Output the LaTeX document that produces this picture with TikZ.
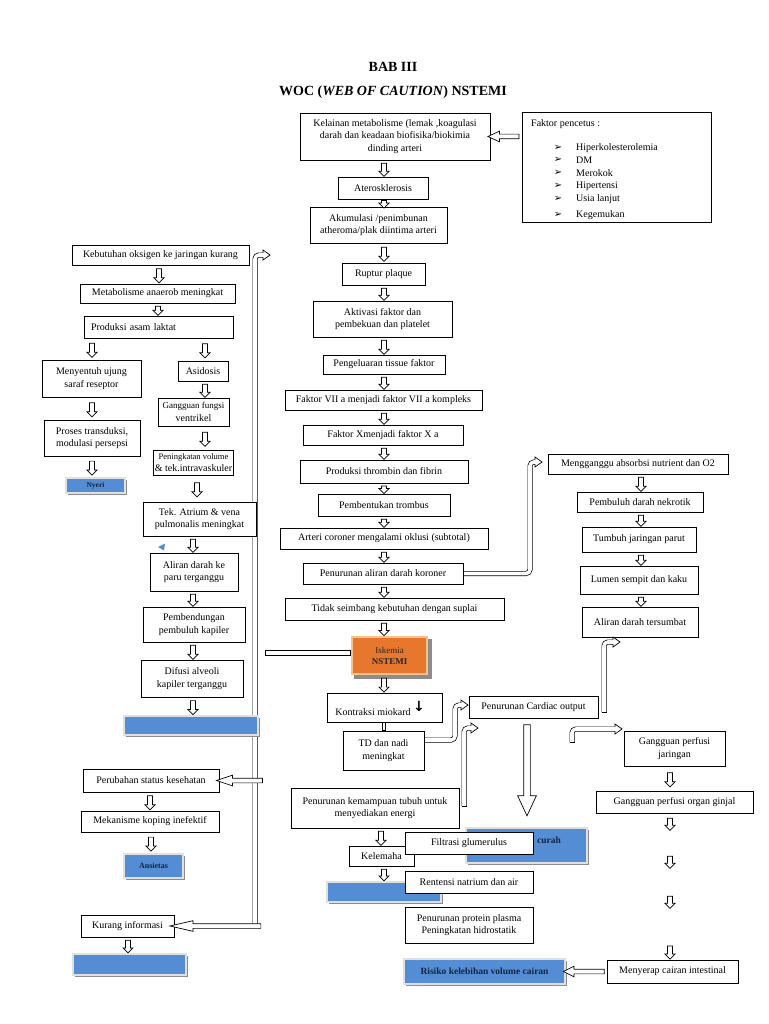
\documentclass[tikz,border=0pt]{standalone}
\usepackage{fontspec}
\setmainfont{Liberation Serif}
\newfontfamily\dejavu{DejaVu Sans}
\usetikzlibrary{shapes.arrows,calc}
\pgfdeclarelayer{bg}
\pgfsetlayers{bg,main}
\definecolor{bluefill}{RGB}{84,141,212}
\definecolor{orangefill}{RGB}{232,119,46}
\definecolor{peach}{RGB}{250,192,144}
\definecolor{navy}{RGB}{16,37,63}
\tikzset{
 box/.style={draw, fill=white, line width=0.9, align=center, inner sep=1, font=\fontsize{10}{12.5}\selectfont},
 bluebox/.style={fill=bluefill, draw=black!12, line width=1.6, align=center, inner sep=1, text=navy, font=\bfseries\fontsize{9.5}{11}\selectfont},
 dn/.style={single arrow, draw, fill=white, rotate=-90, inner sep=2.2, minimum width=9.5, single arrow head extend=2.5, single arrow tip angle=90, line width=0.7},
 bigdn/.style={single arrow, draw, fill=white, rotate=-90, inner sep=3, minimum width=18, single arrow head extend=6, single arrow tip angle=50, line width=0.7},
 lt/.style={single arrow, draw, fill=white, rotate=180, inner sep=2, minimum width=10, single arrow head extend=3, line width=0.7},
 dbl/.style={double, double distance=3.6, line width=0.7, rounded corners=4},
 bar/.style={draw, fill=white, line width=0.7},
 hhead/.pic={\filldraw[fill=white, line width=0.7] (-7,-2.15) -- (-7,-5) -- (0,0) -- (-7,5) -- (-7,2.15);},
 lbl/.style={font=\fontsize{10}{12}\selectfont, inner sep=0},
}
\newcommand\bx[6]{\node[box, minimum width={#4-#2}, minimum height={#5-#3}] (#1) at ({(#2+#4)/2},{(#3+#5)/2}) {#6};}
\newcommand\bb[6]{\fill[black!45] ({#2+2},{#3+2}) rectangle ({#4+2},{#5+2});
 \node[bluebox, minimum width={#4-#2}, minimum height={#5-#3}] (#1) at ({(#2+#4)/2},{(#3+#5)/2}) {#6};}
\newcommand\hd[3]{\path let \p1=(#1.south), \p2=(#2.north), \n1={min(max(\y1-(\y2)-3,7),14)} in
 ($(#3,0 |- #1.south)!0.5!(#3,0 |- #2.north)$) node[dn, minimum height=\n1] {};}
\newcommand\capv[1]{\draw[line width=0.7] ($(#1)+(-2.5,0)$) -- ($(#1)+(2.5,0)$);}
\begin{document}
\begin{tikzpicture}[x=1pt,y=-1pt]
\useasboundingbox (0,0) rectangle (768,1024);
\begin{pgfonlayer}{bg}
\fill[white] (0,0) rectangle (768,1024);
\end{pgfonlayer}

% titles
\node[font=\bfseries\fontsize{14}{16}\selectfont] (t1) at (393,67) {BAB III};
\node[font=\bfseries\fontsize{14}{16}\selectfont] (t2) at (393,92) {WOC (\textit{WEB OF CAUTION}) NSTEMI};

% ---------------- centre column
\bx{kel}{300}{113}{490}{160}{Kelainan metabolisme (lemak ,koagulasi\\darah dan keadaan biofisika/biokimia\\dinding arteri}
\bx{ate}{338}{177}{428}{199}{Aterosklerosis}
\bx{aku}{310}{207}{447}{243}{Akumulasi /penimbunan\\atheroma/plak diintima arteri}
\bx{rup}{342}{263}{425}{285}{Ruptur plaque}
\bx{akt}{313}{301}{452}{337}{Aktivasi faktor dan\\pembekuan dan platelet}
\bx{pgl}{323}{355}{445}{374}{Pengeluaran tissue faktor}
\bx{f7}{285}{390}{482}{410}{Faktor VII a menjadi faktor VII a kompleks}
\bx{fx}{303}{425}{463}{445}{Faktor Xmenjadi faktor X a}
\bx{pth}{300}{460}{468}{483}{Produksi thrombin dan fibrin}
\bx{ptr}{318}{494}{450}{516}{Pembentukan trombus}
\bx{art}{280}{528}{488}{549}{Arteri coroner mengalami oklusi (subtotal)}
\bx{pen}{303}{563}{463}{584}{Penurunan aliran darah koroner}
\bx{tdk}{285}{598}{504}{620}{Tidak seimbang kebutuhan dengan suplai}

\fill[black!45] (354,639) rectangle (432,679);
\node[draw=peach, line width=2.5, fill=orangefill, minimum width=75, minimum height=37, align=center, inner sep=1,
 font=\fontsize{9}{11}\selectfont, text=black!85] (nst) at (389.5,655.5) {Iskemia\\\textbf{NSTEMI}};

\bx{km}{327}{693}{442}{722}{}
\node[lbl] (kmt) at (373,712) {Kontraksi miokard};
\node[font=\dejavu\bfseries\fontsize{14}{14}\selectfont, inner sep=0] (kma) at (419,706) {↓};
\bx{td}{343}{731}{424}{770}{TD dan nadi\\meningkat}
\bx{co}{469}{696}{598}{718}{Penurunan Cardiac output}
\bx{pk}{291}{788}{459}{828}{Penurunan kemampuan tubuh untuk\\menyediakan energi}
\bx{klm}{349}{846}{414}{866}{Kelemaha}
\bb{B5}{466}{828}{587}{863}{}
\node[font=\bfseries\fontsize{9.5}{11}\selectfont, text=navy, inner sep=0, anchor=west] (b5t) at (537,840) {curah};
\bb{B6}{327}{882}{441}{902}{}
\bx{fil}{405}{832}{533}{854}{Filtrasi glumerulus}
\bx{ren}{405}{871}{533}{893}{Rentensi natrium dan air}
\bx{ppp}{405}{907}{533}{943}{Penurunan protein plasma\\Peningkatan hidrostatik}
\bb{rsk}{404}{959}{565}{984}{Risiko kelebihan volume cairan}

% ---------------- faktor pencetus
\bx{fp}{522}{112}{711}{222}{}
\node[lbl, anchor=west] (fpt) at (531,124) {Faktor pencetus :};
\begin{scope}
\clip (fp.north west) rectangle ($(fp.south east)+(0,5.5)$);
\foreach \t/\yy [count=\i] in {Hiperkolesterolemia/148, DM/160, Merokok/173, Hipertensi/186, Usia lanjut/199, Kegemukan/215}{
 \node[lbl, anchor=west] (fi\i) at (576,\yy) {\t};
 \node[font=\dejavu\fontsize{10}{10}\selectfont, inner sep=0] (fb\i) at (558,\yy) {➢};
}
\end{scope}

% ---------------- right column
\bx{r1}{548}{454}{728}{474}{Mengganggu absorbsi nutrient dan O2}
\bx{r2}{577}{492}{703}{512}{Pembuluh darah nekrotik}
\bx{r3}{582}{527}{696}{552}{Tumbuh jaringan parut}
\bx{r4}{580}{566}{698}{594}{Lumen sempit dan kaku}
\bx{r5}{582}{607}{698}{637}{Aliran darah tersumbat}
\bx{gpj}{624}{731}{725}{766}{Gangguan perfusi\\jaringan}
\bx{gpo}{596}{791}{753}{813}{Gangguan perfusi organ ginjal}
\bx{mci}{607}{960}{738}{983}{Menyerap cairan intestinal}

% ---------------- left column
\bx{L1}{72}{245}{249}{265}{Kebutuhan oksigen ke jaringan kurang}
\bx{L2}{80}{284}{235}{303}{Metabolisme anaerob meningkat}
\node[box, minimum height=22, text width=135, align=left, inner xsep=7] (L3) at (158.5,327) {Produksi asam laktat};
\bx{L4}{42}{360}{141}{397}{Menyentuh ujung\\saraf reseptor}
\bx{L5}{178}{361}{228}{381}{Asidosis}
\bx{L6}{44}{420}{140}{456}{Proses transduksi,\\modulasi persepsi}
\bx{L7}{158}{398}{229}{426}{\fontsize{9}{11.5}\selectfont Gangguan fungsi\\ventrikel}
\bx{L8}{155}{450}{232}{475}{\fontsize{8.5}{11}\selectfont Peningkatan volume\\\& tek.intravaskuler}
\bb{B1}{66}{478}{125}{493}{\fontsize{7.5}{8}\selectfont Nyeri}
\bx{L9}{143}{502}{256}{536}{Tek. Atrium \& vena\\pulmonalis meningkat}
\fill[bluefill] (158,547) -- (165,543.5) -- (164,550.5) -- cycle;
\bx{L10}{150}{553}{238}{591}{Aliran darah ke\\paru terganggu}
\bx{L11}{143}{607}{245}{642}{Pembendungan\\pembuluh kapiler}
\bx{L12}{141}{660}{243}{697}{Difusi alveoli\\kapiler terganggu}
\bb{B2}{124}{716}{258}{735}{}
\bx{ps}{83}{769}{219}{792}{Perubahan status kesehatan}
\bx{mk}{81}{811}{219}{832}{Mekanisme koping inefektif}
\bb{B3}{124}{854}{183}{878}{\fontsize{8}{9}\selectfont Ansietas}
\bx{ki}{81}{915}{174}{937}{Kurang informasi}
\bb{B4}{73}{954}{186}{975}{}

% ---------------- bars and elbow arrows (behind boxes)
\begin{pgfonlayer}{bg}
\coordinate (vbB) at (255,927);
\draw[dbl] (vbB) -- (255,255) -- (263,255);
\capv{vbB}
\coordinate (nbar) at (265,652.5);
\draw[bar] ($(nbar)+(0,-2.5)$) rectangle ($(nbar -| nst.west)+(0,2.5)$);
\draw[bar] ($(km.south)+(-2,0)$) rectangle ($(td.north)+(2,0)$);
\draw[dbl] (pen.east) -- (530,573.5) -- (530,462) -- (535,462);
\draw[dbl] ([yshift=10.5]td.east) -- (455,740) -- (455,705) -- (461,705);
\coordinate (pkE) at (464,806);
\draw[dbl] (pkE) -- (464,728) -- (471,728);
\capv{pkE}
\coordinate (coE) at (604,712);
\draw[dbl] (coE) -- (604,642) -- (613,642);
\capv{coE}
\coordinate (gpS) at (572,742);
\draw[dbl] (gpS) -- (572,729) -- (615,729);
\capv{gpS}
\end{pgfonlayer}
\pic at (270,255) {hhead};
\pic at (542,462) {hhead};
\pic at (468,705) {hhead};
\pic at (478,728) {hhead};
\pic at (620,642) {hhead};
\pic at (622,729) {hhead};

% ---------------- hollow down arrows
\hd{kel}{ate}{384}
\hd{ate}{aku}{384}
\hd{aku}{rup}{384}
\hd{rup}{akt}{384}
\hd{akt}{pgl}{384}
\hd{pgl}{f7}{384}
\hd{f7}{fx}{384}
\hd{fx}{pth}{384}
\hd{pth}{ptr}{384}
\hd{ptr}{art}{384}
\hd{art}{pen}{384}
\hd{pen}{tdk}{384}
\hd{tdk}{nst}{384}
\hd{nst}{km}{384}
\hd{pk}{klm}{381}
\hd{klm}{B6}{384}

\hd{r1}{r2}{641}
\hd{r2}{r3}{641}
\hd{r3}{r4}{641}
\hd{r4}{r5}{641}
\hd{gpj}{gpo}{670}
\node[dn, minimum height=12] (fa1) at (670,823) {};
\node[dn, minimum height=12] (fa2) at (670,861) {};
\node[dn, minimum height=12] (fa3) at (670,901) {};
\path (670,943) -- (mci.north -| 670,0) node[midway, dn, minimum height=13] (fa4) {};

\hd{L1}{L2}{159}
\hd{L2}{L3}{158}
\hd{L3}{L4}{92}
\hd{L3}{L5}{205}
\hd{L4}{L6}{92}
\hd{L6}{B1}{92}
\hd{L5}{L7}{205}
\hd{L7}{L8}{205}
\hd{L8}{L9}{197}
\hd{L9}{L10}{193}
\hd{L10}{L11}{193}
\hd{L11}{L12}{193}
\hd{L12}{B2}{193}
\hd{ps}{mk}{150}
\hd{mk}{B3}{151}
\hd{ki}{B4}{128}

% big arrow from cardiac output
\path (co.south -| 527,0) -- (527,815) node[midway, bigdn, minimum height=91] (bigA) {};

% ---------------- hollow left arrows
\path (kel.east) -- (fp.west |- kel.east) node[midway, lt, minimum height=31, single arrow tip angle=50] {};
\path (ps.east) -- ++(47,0) node[midway, lt, minimum height=46, single arrow tip angle=37] {};
\path (ki.east) -- ++(92,0) node[midway, lt, minimum height=91, single arrow tip angle=26] {};
\path (mci.west) -- (rsk.east |- mci.west) node[midway, lt, minimum height=41, single arrow tip angle=53] {};
\end{tikzpicture}
\end{document}
